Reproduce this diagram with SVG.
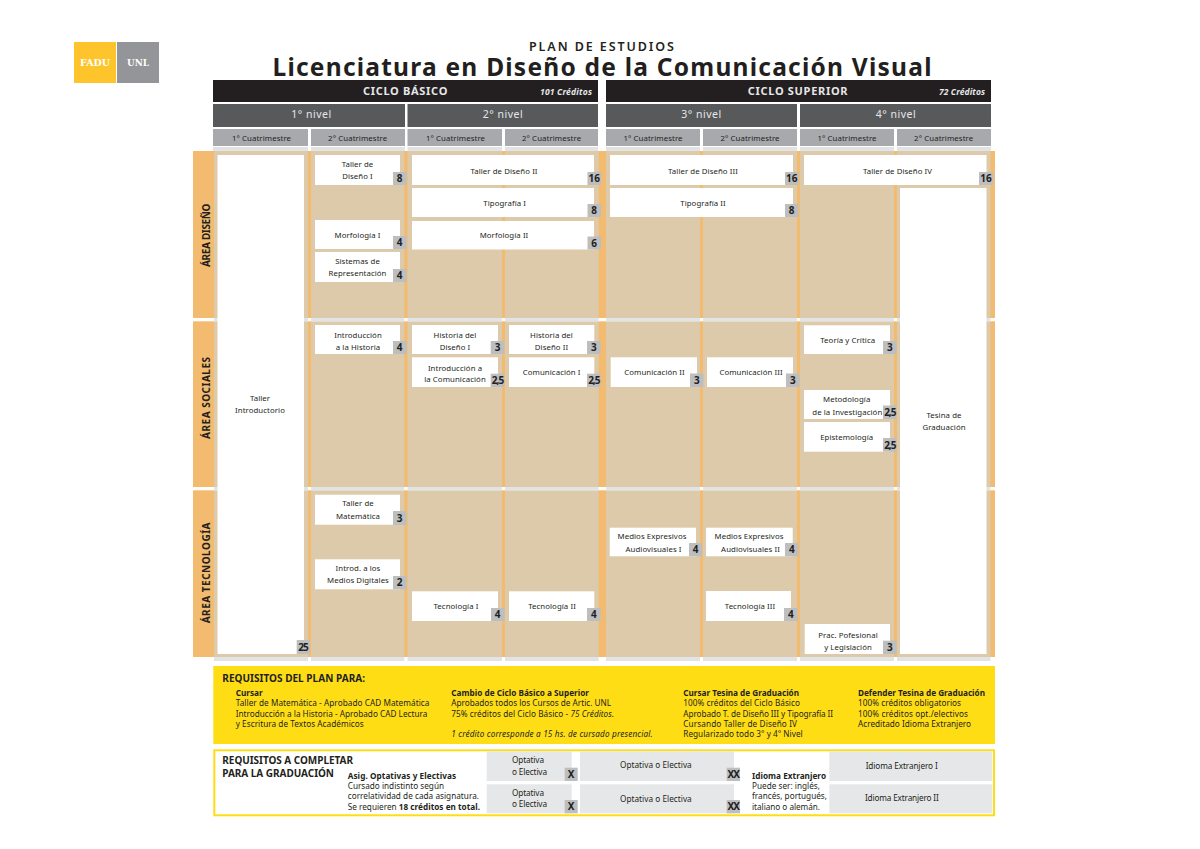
<svg xmlns="http://www.w3.org/2000/svg" width="1200" height="849" viewBox="0 0 1200 849">
<style>
text{font-family:"Noto Sans","Open Sans","DejaVu Sans",sans-serif;fill:#231f20}
.box{fill:#fff}
.badge{fill:#bcbec0}
.tan{fill:#ddcaaa}
.org{fill:#f3bb6f}
.lg{fill:#e2e3e4}
.blk{fill:#231f20}
.niv{fill:#58595b}
.cua{fill:#a7a9ac}
.t{font-size:7.8px;letter-spacing:.08px;text-anchor:middle}
.b{font-size:10px;font-weight:700;text-anchor:middle}
.c{font-size:7.8px;letter-spacing:.1px;text-anchor:middle}
.n{font-size:10.5px;letter-spacing:.5px;text-anchor:middle;fill:#e6e7e8}
.h{font-size:11px;font-weight:700;letter-spacing:.7px;text-anchor:middle;fill:#e6e7e8}
.cr{font-size:8.5px;font-weight:700;font-style:italic;fill:#e6e7e8}
.a{font-size:10px;font-weight:700;letter-spacing:.5px;text-anchor:middle}
.r{font-size:8.2px}
.rb{font-size:8.2px;font-weight:700}
.rh{font-size:10px;font-weight:700}
.g{fill:#e6e7e8}
</style>
<rect width="1200" height="849" fill="#fff"/>

<g id="logo">
<rect x="74" y="42" width="42" height="41" fill="#fdc52b"/>
<rect x="117" y="42" width="42" height="41" fill="#939598"/>
<text x="95" y="66" font-size="10" font-weight="700" text-anchor="middle" textLength="30" lengthAdjust="spacingAndGlyphs" style="font-family:'DejaVu Serif',serif;fill:#fff">FADU</text>
<text x="138" y="66" font-size="10" font-weight="700" text-anchor="middle" textLength="22" lengthAdjust="spacingAndGlyphs" style="font-family:'DejaVu Serif',serif;fill:#fff">UNL</text>
</g>

<g id="titulo">
<text x="601.5" y="51" font-size="12.5" font-weight="600" text-anchor="middle" textLength="145">PLAN DE ESTUDIOS</text>
<text x="602" y="76" font-size="24.5" font-weight="700" text-anchor="middle" textLength="659">Licenciatura en Diseño de la Comunicación Visual</text>
</g>

<g id="cabecera">
<rect class="blk" x="213" y="80" width="385" height="22"/>
<rect class="blk" x="606" y="80" width="385" height="22"/>
<text class="h" x="405.5" y="94.500">CICLO BÁSICO</text>
<text class="cr" x="540" y="94.500" textLength="52">101 Créditos</text>
<text class="h" x="798" y="94.500">CICLO SUPERIOR</text>
<text class="cr" x="939" y="94.500" textLength="46">72 Créditos</text>
<rect class="niv" x="213" y="104" width="192" height="23"/>
<rect class="niv" x="407.500" y="104" width="190.500" height="23"/>
<rect class="niv" x="606" y="104" width="191" height="23"/>
<rect class="niv" x="800" y="104" width="191" height="23"/>
<text class="n" x="311.500" y="118">1° nivel</text>
<text class="n" x="503" y="118">2° nivel</text>
<text class="n" x="701.500" y="118">3° nivel</text>
<text class="n" x="896" y="118">4° nivel</text>
<rect class="cua" x="213" y="129" width="95" height="17"/>
<rect class="cua" x="311" y="129" width="94" height="17"/>
<rect class="cua" x="407.500" y="129" width="94.500" height="17"/>
<rect class="cua" x="505" y="129" width="93" height="17"/>
<rect class="cua" x="606" y="129" width="94" height="17"/>
<rect class="cua" x="703" y="129" width="94" height="17"/>
<rect class="cua" x="800" y="129" width="94" height="17"/>
<rect class="cua" x="897" y="129" width="94" height="17"/>
<text class="c" x="261.500" y="141">1° Cuatrimestre</text>
<text class="c" x="357.700" y="141">2° Cuatrimestre</text>
<text class="c" x="455.500" y="141">1° Cuatrimestre</text>
<text class="c" x="551.600" y="141">2° Cuatrimestre</text>
<text class="c" x="653" y="141">1° Cuatrimestre</text>
<text class="c" x="750" y="141">2° Cuatrimestre</text>
<text class="c" x="847" y="141">1° Cuatrimestre</text>
<text class="c" x="943.700" y="141">2° Cuatrimestre</text>
<rect class="lg" x="213" y="147" width="95" height="4"/>
<rect class="lg" x="311" y="147" width="94" height="4"/>
<rect class="lg" x="407.500" y="147" width="94.500" height="4"/>
<rect class="lg" x="505" y="147" width="93" height="4"/>
<rect class="lg" x="606" y="147" width="94" height="4"/>
<rect class="lg" x="703" y="147" width="94" height="4"/>
<rect class="lg" x="800" y="147" width="94" height="4"/>
<rect class="lg" x="897" y="147" width="94" height="4"/>
</g>

<g id="fondo">
<rect class="org" x="193" y="151" width="802" height="506"/>
<rect class="tan" x="214" y="151" width="94" height="506"/>
<rect class="tan" x="311" y="151" width="93.300" height="506"/>
<rect class="tan" x="407.500" y="151" width="94.500" height="506"/>
<rect class="tan" x="505" y="151" width="93.700" height="506"/>
<rect class="tan" x="606" y="151" width="94" height="506"/>
<rect class="tan" x="703" y="151" width="94" height="506"/>
<rect class="tan" x="800" y="151" width="94" height="506"/>
<rect class="tan" x="897" y="151" width="93.500" height="506"/>
<rect x="193" y="318" width="802" height="3.300" fill="#fff"/>
<rect x="193" y="487" width="802" height="3.300" fill="#fff"/>
<rect class="lg" x="214" y="318" width="94" height="3.300"/><rect class="lg" x="311" y="318" width="93.300" height="3.300"/><rect class="lg" x="407.500" y="318" width="94.500" height="3.300"/><rect class="lg" x="505" y="318" width="93.700" height="3.300"/><rect class="lg" x="606" y="318" width="94" height="3.300"/><rect class="lg" x="703" y="318" width="94" height="3.300"/><rect class="lg" x="800" y="318" width="94" height="3.300"/><rect class="lg" x="897" y="318" width="93.500" height="3.300"/>
<rect class="lg" x="214" y="487" width="94" height="3.300"/><rect class="lg" x="311" y="487" width="93.300" height="3.300"/><rect class="lg" x="407.500" y="487" width="94.500" height="3.300"/><rect class="lg" x="505" y="487" width="93.700" height="3.300"/><rect class="lg" x="606" y="487" width="94" height="3.300"/><rect class="lg" x="703" y="487" width="94" height="3.300"/><rect class="lg" x="800" y="487" width="94" height="3.300"/><rect class="lg" x="897" y="487" width="93.500" height="3.300"/>
<rect class="lg" x="214" y="657" width="94" height="4"/><rect class="lg" x="311" y="657" width="93.300" height="4"/><rect class="lg" x="407.500" y="657" width="94.500" height="4"/><rect class="lg" x="505" y="657" width="93.700" height="4"/><rect class="lg" x="606" y="657" width="94" height="4"/><rect class="lg" x="703" y="657" width="94" height="4"/><rect class="lg" x="800" y="657" width="94" height="4"/><rect class="lg" x="897" y="657" width="93.500" height="4"/>
<text class="a" transform="translate(209.500 235) rotate(-90)" textLength="64">ÁREA DISEÑO</text>
<text class="a" transform="translate(209.500 397.700) rotate(-90)">ÁREA SOCIALES</text>
<text class="a" transform="translate(209.500 572.700) rotate(-90)">ÁREA TECNOLOGÍA</text>
</g>

<g id="connectors"></g>

<g id="n-taller-introductorio"><rect class="box" x="217.500" y="155" width="86.500" height="499"/><rect class="badge" x="296.700" y="640" width="13" height="14"/><text class="t" x="260" y="401">Taller</text><text class="t" x="260" y="413">Introductorio</text><text class="b" x="303" y="650.700" letter-spacing="-1">25</text></g>

<g id="n-taller-diseno-1"><rect class="box" x="315" y="155" width="85" height="30"/><rect class="badge" x="393" y="172" width="13.500" height="13"/><text class="t" x="357.500" y="167">Taller de</text><text class="t" x="357.500" y="179">Diseño I</text><text class="b" x="399.700" y="182.200">8</text></g>
<g id="n-morfologia-1"><rect class="box" x="315" y="220" width="85" height="29"/><rect class="badge" x="393" y="236" width="13.500" height="13"/><text class="t" x="357.500" y="237.500">Morfología I</text><text class="b" x="399.700" y="246.200">4</text></g>
<g id="n-sistemas"><rect class="box" x="315" y="252" width="85" height="30"/><rect class="badge" x="393" y="269" width="13.500" height="13"/><text class="t" x="357.500" y="264">Sistemas de</text><text class="t" x="357.500" y="275.500">Representación</text><text class="b" x="399.700" y="279.200">4</text></g>
<g id="n-taller-diseno-2"><rect class="box" x="412" y="155" width="182" height="30"/><rect class="badge" x="587.500" y="172" width="13.500" height="13"/><text class="t" x="504" y="173.500">Taller de Diseño II</text><text class="b" x="594.200" y="182.200">16</text></g>
<g id="n-tipografia-1"><rect class="box" x="412" y="188" width="182" height="29"/><rect class="badge" x="587.500" y="204" width="13.500" height="13"/><text class="t" x="504.700" y="205.500">Tipografía I</text><text class="b" x="594.200" y="214.200">8</text></g>
<g id="n-morfologia-2"><rect class="box" x="412" y="221" width="182" height="28.500"/><rect class="badge" x="587.500" y="236.500" width="13.500" height="13"/><text class="t" x="504" y="237.500">Morfología II</text><text class="b" x="594.200" y="246.700">6</text></g>
<g id="n-taller-diseno-3"><rect class="box" x="610" y="155" width="183" height="30"/><rect class="badge" x="785" y="172" width="13.500" height="13"/><text class="t" x="703" y="173.500">Taller de Diseño III</text><text class="b" x="791.700" y="182.200">16</text></g>
<g id="n-tipografia-2"><rect class="box" x="610" y="188" width="183" height="29"/><rect class="badge" x="785" y="204" width="13.500" height="13"/><text class="t" x="703" y="205.500">Tipografía II</text><text class="b" x="791.700" y="214.200">8</text></g>
<g id="n-taller-diseno-4"><rect class="box" x="804" y="155" width="182.500" height="30"/><rect class="badge" x="979" y="172" width="14" height="13"/><text class="t" x="897.500" y="173.500">Taller de Diseño IV</text><text class="b" x="986" y="182.200">16</text></g>
<g id="n-tesina"><rect class="box" x="900" y="188" width="86.500" height="466"/><text class="t" x="944" y="418">Tesina de</text><text class="t" x="944" y="429.500">Graduación</text></g>

<g id="n-intro-historia"><rect class="box" x="315" y="325" width="85" height="29"/><rect class="badge" x="393" y="341" width="13.500" height="13"/><text class="t" x="358" y="338">Introducción</text><text class="t" x="358" y="350">a la Historia</text><text class="b" x="399.700" y="351.200">4</text></g>
<g id="n-historia-1"><rect class="box" x="412" y="325" width="86" height="29"/><rect class="badge" x="490.700" y="341" width="13.500" height="13"/><text class="t" x="455" y="338">Historia del</text><text class="t" x="455" y="350">Diseño I</text><text class="b" x="497.500" y="351.200">3</text></g>
<g id="n-historia-2"><rect class="box" x="509" y="325" width="85.300" height="29"/><rect class="badge" x="587" y="341" width="13.500" height="13"/><text class="t" x="551.500" y="338">Historia del</text><text class="t" x="551.500" y="350">Diseño II</text><text class="b" x="593.800" y="351.200">3</text></g>
<g id="n-intro-comunicacion"><rect class="box" x="412" y="357.300" width="86" height="29.700"/><rect class="badge" x="490.700" y="373.700" width="13.500" height="13.300"/><text class="t" x="455" y="370.500">Introducción a</text><text class="t" x="455" y="382">la Comunicación</text><text class="b" x="497.500" y="384.200" letter-spacing="-1">2,5</text></g>
<g id="n-comunicacion-1"><rect class="box" x="509" y="357.300" width="85.300" height="29.700"/><rect class="badge" x="587" y="373.700" width="13.500" height="13.300"/><text class="t" x="551.700" y="375">Comunicación I</text><text class="b" x="593.800" y="384.200" letter-spacing="-1">2,5</text></g>
<g id="n-comunicacion-2"><rect class="box" x="610.700" y="357.300" width="86.300" height="29.700"/><rect class="badge" x="690" y="373.500" width="13.500" height="13.500"/><text class="t" x="654.500" y="375">Comunicación II</text><text class="b" x="696.800" y="384.200">3</text></g>
<g id="n-comunicacion-3"><rect class="box" x="707" y="357.300" width="86" height="29.700"/><rect class="badge" x="786" y="373.500" width="13.500" height="13.500"/><text class="t" x="751" y="375">Comunicación III</text><text class="b" x="792.800" y="384.200">3</text></g>
<g id="n-teoria"><rect class="box" x="804" y="325.300" width="86" height="28.700"/><rect class="badge" x="883" y="341" width="13.500" height="13"/><text class="t" x="847.700" y="343">Teoría y Crítica</text><text class="b" x="889.800" y="351.200">3</text></g>
<g id="n-metodologia"><rect class="box" x="804" y="390" width="86" height="29"/><rect class="badge" x="883" y="405.500" width="13.500" height="13.500"/><text class="t" x="846.700" y="402">Metodología</text><text class="t" x="847.300" y="415">de la Investigación</text><text class="b" x="889.800" y="415.700" letter-spacing="-1">2,5</text></g>
<g id="n-epistemologia"><rect class="box" x="804" y="422" width="86" height="29.700"/><rect class="badge" x="883" y="438" width="13.500" height="13.700"/><text class="t" x="846.700" y="439.500">Epistemología</text><text class="b" x="889.800" y="448.700" letter-spacing="-1">2,5</text></g>

<g id="n-taller-matematica"><rect class="box" x="315" y="494.700" width="85" height="30"/><rect class="badge" x="393" y="511" width="13.500" height="14"/><text class="t" x="358" y="506">Taller de</text><text class="t" x="358" y="519">Matemática</text><text class="b" x="399.700" y="521.700">3</text></g>
<g id="n-medios-digitales"><rect class="box" x="315" y="559.300" width="85" height="30"/><rect class="badge" x="393" y="576" width="13.500" height="13.300"/><text class="t" x="358" y="571">Introd. a los</text><text class="t" x="358" y="583">Medios Digitales</text><text class="b" x="399.700" y="586.300">2</text></g>
<g id="n-tecnologia-1"><rect class="box" x="412" y="591.300" width="86" height="29.700"/><rect class="badge" x="491" y="608" width="13.500" height="13"/><text class="t" x="456" y="609">Tecnología I</text><text class="b" x="497.700" y="618.200">4</text></g>
<g id="n-tecnologia-2"><rect class="box" x="509" y="591.300" width="85.300" height="29.700"/><rect class="badge" x="587" y="608" width="13.500" height="13"/><text class="t" x="552" y="609">Tecnología II</text><text class="b" x="593.800" y="618.200">4</text></g>
<g id="n-medios-1"><rect class="box" x="609.700" y="527.700" width="86.300" height="28.600"/><rect class="badge" x="689" y="543" width="13" height="13.300"/><text class="t" x="652" y="539">Medios Expresivos</text><text class="t" x="653.500" y="551.500">Audiovisuales I</text><text class="b" x="695.500" y="553.300">4</text></g>
<g id="n-medios-2"><rect class="box" x="706" y="527.700" width="86.700" height="28.600"/><rect class="badge" x="785" y="543" width="13.500" height="13.300"/><text class="t" x="749" y="539">Medios Expresivos</text><text class="t" x="750.500" y="551.500">Audiovisuales II</text><text class="b" x="791.800" y="553.300">4</text></g>
<g id="n-tecnologia-3"><rect class="box" x="706" y="591" width="85" height="30"/><rect class="badge" x="784" y="608" width="13.500" height="13"/><text class="t" x="750" y="609">Tecnología III</text><text class="b" x="790.800" y="618.200">4</text></g>
<g id="n-practica"><rect class="box" x="804.700" y="624" width="85.300" height="30"/><rect class="badge" x="883" y="640.700" width="13.500" height="13.300"/><text class="t" x="848" y="638">Prac. Pofesional</text><text class="t" x="848" y="649.500">y Legislación</text><text class="b" x="889.800" y="651">3</text></g>

<g id="requisitos-plan">
<rect x="213.300" y="666" width="781.700" height="78" fill="#ffdd15"/>
<text class="rh" x="222.300" y="681.700" textLength="142.700">REQUISITOS DEL PLAN PARA:</text>
<text class="rb" x="235.700" y="696">Cursar</text>
<text class="r" x="235.700" y="706.300" textLength="193.700">Taller de Matemática - Aprobado CAD Matemática</text>
<text class="r" x="235.700" y="716.800" textLength="191.600">Introducción a la Historia - Aprobado CAD Lectura</text>
<text class="r" x="235.700" y="726.800" textLength="128">y Escritura de Textos Académicos</text>
<text class="rb" x="451.300" y="696" textLength="137.700">Cambio de Ciclo Básico a Superior</text>
<text class="r" x="451.300" y="706.300" textLength="159.700">Aprobados todos los Cursos de Artic. UNL</text>
<text class="r" x="451.300" y="716.800" textLength="162.700">75% créditos del Ciclo Básico - <tspan font-style="italic">75 Créditos.</tspan></text>
<text class="r" x="451.300" y="737.300" font-style="italic" textLength="201.400">1 crédito corresponde a 15 hs. de cursado presencial.</text>
<text class="rb" x="683.300" y="696" textLength="115.700">Cursar Tesina de Graduación</text>
<text class="r" x="683.300" y="706.300" textLength="116.700">100% créditos del Ciclo Básico</text>
<text class="r" x="683.300" y="716.800" textLength="149.700">Aprobado T. de Diseño III y Tipografía II</text>
<text class="r" x="683.300" y="726.800" textLength="113.700">Cursando Taller de Diseño IV</text>
<text class="r" x="683.300" y="737.300" textLength="119.400">Regularizado todo 3° y 4° Nivel</text>
<text class="rb" x="858" y="696" textLength="127">Defender Tesina de Graduación</text>
<text class="r" x="858" y="706.300" textLength="103">100% créditos obligatorios</text>
<text class="r" x="858" y="716.800" textLength="110">100% créditos opt./electivos</text>
<text class="r" x="858" y="726.800" textLength="113">Acreditado Idioma Extranjero</text>
</g>

<g id="requisitos-graduacion">
<rect x="214.300" y="750.300" width="779.700" height="65" fill="#fff" stroke="#ffdd15" stroke-width="2"/>
<text class="rh" x="222.300" y="764" textLength="130.700">REQUISITOS A COMPLETAR</text>
<text class="rh" x="222.300" y="776.700" textLength="111.700">PARA LA GRADUACIÓN</text>
<text class="rb" x="347.700" y="779" textLength="108.300">Asig. Optativas y Electivas</text>
<text class="r" x="347.700" y="789.300" textLength="96.300">Cursado indistinto según</text>
<text class="r" x="347.700" y="799.300" textLength="131.300">correlatividad de cada asignatura.</text>
<text class="r" x="347.700" y="809.700" textLength="132.300">Se requieren <tspan font-weight="700">18 créditos en total.</tspan></text>
<text class="rb" x="752" y="779" textLength="74">Idioma Extranjero</text>
<text class="r" x="752" y="789.300" textLength="68">Puede ser: inglés,</text>
<text class="r" x="752" y="799.300" textLength="75">francés, portugués,</text>
<text class="r" x="752" y="809.700" textLength="68">italiano o alemán.</text>
</g>
<g id="n-optativa-1"><rect class="g" x="486.700" y="751.300" width="85" height="29.700"/><rect class="badge" x="564.700" y="767.700" width="13" height="13.300"/><text class="r" x="512" y="763" textLength="32">Optativa</text><text class="r" x="512" y="775" textLength="35">o Electiva</text><text class="b" x="571.200" y="778">X</text></g>
<g id="n-optativa-2"><rect class="g" x="486.700" y="784.300" width="85" height="29"/><rect class="badge" x="564.700" y="800" width="13" height="13.300"/><text class="r" x="512" y="795.700" textLength="32">Optativa</text><text class="r" x="512" y="806.700" textLength="35">o Electiva</text><text class="b" x="571.200" y="810.300">X</text></g>
<g id="n-optativa-3"><rect class="g" x="580" y="751.300" width="154" height="29.700"/><rect class="badge" x="726.700" y="767.700" width="13.300" height="13.300"/><text class="r" x="620" y="768.300" textLength="71.700">Optativa o Electiva</text><text class="b" x="733.300" y="778" letter-spacing="-1">XX</text></g>
<g id="n-optativa-4"><rect class="g" x="580" y="784.300" width="154" height="29"/><rect class="badge" x="726.700" y="800" width="13.300" height="13.300"/><text class="r" x="620" y="801.700" textLength="71.700">Optativa o Electiva</text><text class="b" x="733.300" y="810.300" letter-spacing="-1">XX</text></g>
<g id="n-idioma-1"><rect class="g" x="829.300" y="751.300" width="163" height="29.700"/><text class="r" x="865.700" y="768.700" textLength="72">Idioma Extranjero I</text></g>
<g id="n-idioma-2"><rect class="g" x="829.300" y="784.300" width="163" height="29"/><text class="r" x="865" y="800.700" textLength="73.700">Idioma Extranjero II</text></g>
</svg>
